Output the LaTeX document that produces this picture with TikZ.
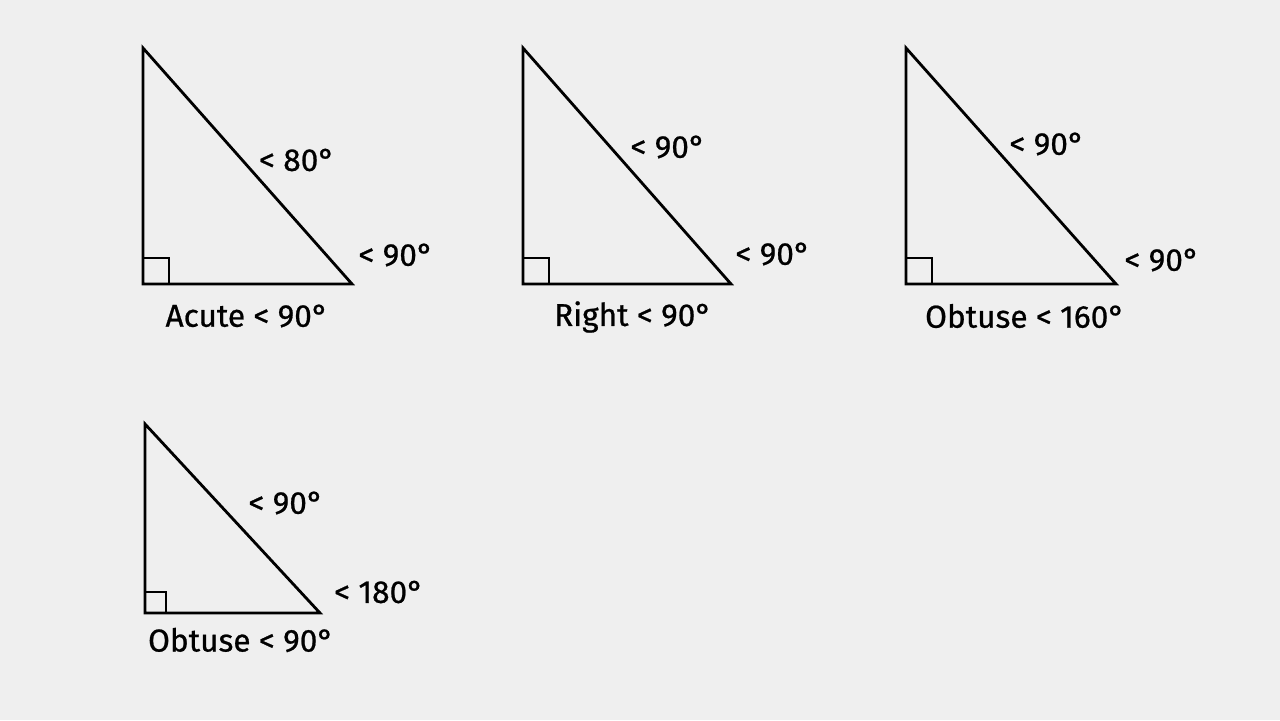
\documentclass[tikz,border=0pt]{standalone}
\usepackage{fontspec}
\setmainfont{Fira Sans}[FakeBold=0.7]
\definecolor{paper}{HTML}{EFEFEF}
\begin{document}
\begin{tikzpicture}[x=0.02cm,y=-0.02cm,line width=1.6pt,
  lbl/.style={font=\fontsize{18}{21}\selectfont,inner sep=0pt}]
    \fill[paper] (0,0) rectangle (1280,720);
    \useasboundingbox (0,0) rectangle (1280,720);
    % first row
    \draw (143,48)--(143,284)--(352,284)--cycle; \draw (143,258) rectangle (169,284);
    \draw (523,48)--(523,284)--(731,284)--cycle; \draw (523,258) rectangle (549,284);
    \draw (906,48)--(906,284)--(1116,284)--cycle; \draw (906,258) rectangle (932,284);
    % second row
    \draw (145,424)--(145,613)--(320,613)--cycle; \draw (145,592) rectangle (166,613);
    \node[lbl] (a1) at (297,160) {< 80°}; \node[lbl] (a2) at (396,255) {< 90°};
     \node[lbl] (a3) at (247,316) {Acute < 90°};
    \node[lbl] (r1) at (668,147) {< 90°}; \node[lbl] (r2) at (773,254) {< 90°};
     \node[lbl] (r3) at (633,317) {Right < 90°};
    \node[lbl] (o1) at (1047,144) {< 90°}; \node[lbl] (o2) at (1162,260) {< 90°};
     \node[lbl] (o3) at (1025,316) {Obtuse < 160°};
    \node[lbl] (b1) at (286,503) {< 90°}; \node[lbl] (b2) at (379,592) {< 180°};
     \node[lbl] (b3) at (241,640) {Obtuse < 90°};
    \end{tikzpicture}
\end{document}
